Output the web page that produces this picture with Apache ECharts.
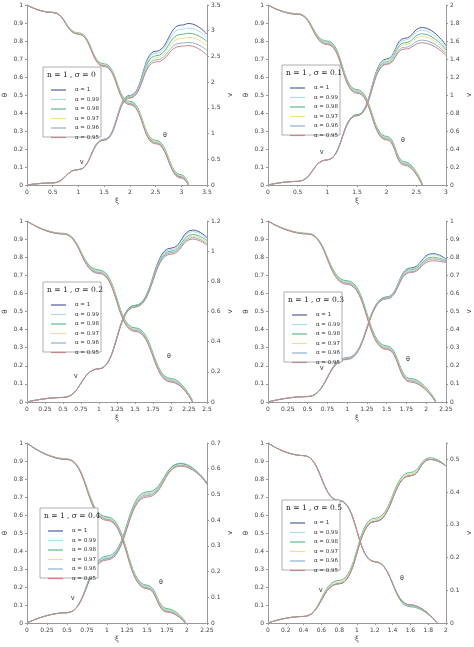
<!DOCTYPE html>
<html><head><meta charset="utf-8">
<script src="https://cdn.jsdelivr.net/npm/echarts@6/dist/echarts.min.js"></script>
<style>html,body{margin:0;padding:0;background:#fff}#c{width:474px;height:647px}</style>
</head><body><div id="c"></div>
<script>
const ALPHAS=['α = 1','α = 0.99','α = 0.98','α = 0.97','α = 0.96','α = 0.95'];
const SIGMAS=['0','0.1','0.2','0.3','0.4','0.5'];

const P1_thetaX=[0,0.5,1,1.5,2,2.5,3,3.14];
const P1_theta=[
 [1,.959,.841,.665,.455,.239,.047,0],
 [1,.959,.843,.669,.460,.244,.052,.004],
 [1,.960,.845,.673,.465,.249,.057,.008],
 [1,.959,.842,.667,.457,.241,.050,.002],
 [1,.958,.839,.662,.450,.233,.042,0],
 [1,.958,.837,.658,.446,.229,.038,0]];
const P1_vX=[0,0.5,1,1.5,2,2.5,3,3.15,3.5];
const P1_v=[
 [0,.04,.30,.89,1.74,2.60,3.11,3.14,2.93],
 [0,.04,.30,.89,1.73,2.56,3.03,3.05,2.87],
 [0,.04,.30,.88,1.72,2.51,2.93,2.95,2.79],
 [0,.04,.30,.88,1.71,2.47,2.85,2.87,2.71],
 [0,.04,.30,.88,1.70,2.43,2.76,2.77,2.62],
 [0,.04,.30,.87,1.69,2.39,2.70,2.71,2.52]];

const P2_thetaX=[0,0.5,1,1.5,2,2.3,2.6];
const P2_theta=[
 [1,.95,.79,.52,.26,.12,0],
 [1,.95,.795,.525,.265,.125,.004],
 [1,.952,.80,.53,.27,.13,.008],
 [1,.95,.79,.52,.26,.12,.002],
 [1,.949,.785,.515,.255,.115,0],
 [1,.948,.78,.51,.25,.11,0]];
const P2_vX=[0,0.5,1,1.5,2,2.3,2.6,3];
const P2_v=[
 [0,.04,.28,.78,1.40,1.63,1.75,1.55],
 [0,.04,.28,.78,1.39,1.61,1.72,1.52],
 [0,.04,.28,.78,1.37,1.58,1.68,1.50],
 [0,.04,.28,.77,1.36,1.56,1.65,1.48],
 [0,.04,.28,.77,1.35,1.53,1.61,1.46],
 [0,.04,.28,.77,1.34,1.51,1.58,1.44]];

const P3_thetaX=[0,0.5,1,1.5,2,2.3];
const P3_theta=[
 [1,.93,.72,.40,.12,0],
 [1,.93,.725,.405,.125,.004],
 [1,.932,.73,.41,.13,.008],
 [1,.93,.72,.40,.12,.002],
 [1,.929,.715,.395,.115,0],
 [1,.928,.71,.39,.11,0]];
const P3_vX=[0,0.5,1,1.5,2,2.3,2.5];
const P3_v=[
 [0,.03,.22,.64,1.02,1.14,1.09],
 [0,.03,.22,.64,1.01,1.13,1.08],
 [0,.03,.22,.64,1.00,1.11,1.07],
 [0,.03,.22,.63,.99,1.10,1.06],
 [0,.03,.22,.63,.99,1.09,1.05],
 [0,.03,.22,.63,.98,1.08,1.04]];

const P4_thetaX=[0,0.5,1,1.5,1.8,2.12];
const P4_theta=[
 [1,.93,.66,.30,.12,0],
 [1,.93,.665,.305,.125,.004],
 [1,.932,.67,.31,.13,.008],
 [1,.93,.66,.30,.12,.002],
 [1,.929,.655,.295,.115,0],
 [1,.928,.65,.29,.11,0]];
const P4_vX=[0,0.5,1,1.5,1.8,2.08,2.25];
const P4_v=[
 [0,.03,.24,.58,.74,.82,.79],
 [0,.03,.24,.58,.735,.815,.785],
 [0,.03,.245,.58,.73,.80,.78],
 [0,.03,.24,.575,.725,.795,.775],
 [0,.03,.24,.575,.72,.79,.775],
 [0,.03,.235,.57,.715,.78,.77]];

const P5_thetaX=[0,0.5,1,1.5,1.75,1.98];
const P5_theta=[
 [1,.91,.58,.20,.07,0],
 [1,.91,.585,.205,.075,.004],
 [1,.912,.59,.21,.08,.008],
 [1,.91,.58,.20,.07,.002],
 [1,.909,.575,.195,.065,0],
 [1,.908,.57,.19,.06,0]];
const P5_vX=[0,0.5,1,1.5,1.92,2.25];
const P5_v=[
 [0,.04,.25,.50,.62,.54],
 [0,.04,.255,.505,.622,.545],
 [0,.04,.26,.51,.62,.545],
 [0,.04,.25,.50,.615,.545],
 [0,.04,.25,.495,.613,.545],
 [0,.04,.245,.49,.61,.545]];

const P6_thetaX=[0,0.4,0.8,1.2,1.6,1.9];
const P6_theta=[
 [1,.93,.68,.34,.10,0],
 [1,.93,.68,.34,.095,0],
 [1,.93,.682,.342,.09,0],
 [1,.93,.68,.34,.10,0],
 [1,.93,.68,.34,.10,0],
 [1,.93,.68,.34,.10,0]];
const P6_vX=[0,0.4,0.8,1.2,1.6,1.82,2];
const P6_v=[
 [0,.02,.12,.31,.45,.50,.48],
 [0,.02,.125,.315,.455,.50,.48],
 [0,.02,.13,.32,.46,.505,.48],
 [0,.02,.125,.315,.455,.50,.48],
 [0,.02,.12,.31,.45,.50,.48],
 [0,.02,.12,.31,.45,.50,.48]];

const COLORS=['#4f5f9f','#a8dce8','#5fb98c','#efe08c','#8db1d6','#c48686'];
const panels=[
 {tx:P1_thetaX,th:P1_theta,vx:P1_vX,v:P1_v,xmax:3.5,xint:.5,vmax:3.5,vint:.5},
 {tx:P2_thetaX,th:P2_theta,vx:P2_vX,v:P2_v,xmax:3,xint:.5,vmax:2,vint:.2},
 {tx:P3_thetaX,th:P3_theta,vx:P3_vX,v:P3_v,xmax:2.5,xint:.25,vmax:1.2,vint:.2},
 {tx:P4_thetaX,th:P4_theta,vx:P4_vX,v:P4_v,xmax:2.25,xint:.25,vmax:1,vint:.1},
 {tx:P5_thetaX,th:P5_theta,vx:P5_vX,v:P5_v,xmax:2.25,xint:.25,vmax:.7,vint:.1},
 {tx:P6_thetaX,th:P6_theta,vx:P6_vX,v:P6_v,xmax:2,xint:.2,vmax:.55,vint:.1}];
const layout=[
 {l:27,t:5,w:180,h:180,box:[43,67],th:[163,132],vl:[80,159]},
 {l:268,t:5,w:178,h:180,box:[282,65],th:[401,137],vl:[320,149]},
 {l:27,t:221,w:180,h:181,box:[43,282],th:[167,353],vl:[74,373]},
 {l:268,t:221,w:178,h:181,box:[284,292],th:[406,356],vl:[320,365]},
 {l:27,t:443,w:180,h:180,box:[40,508],th:[159,579],vl:[71,595]},
 {l:268,t:443,w:178,h:180,box:[282,500],th:[400,575],vl:[319,587]}];

const grid=[],xAxis=[],yAxis=[],series=[],legend=[],graphic=[];
const tick={fontSize:6,color:'#444',margin:4};
const axLine={show:true,lineStyle:{color:'#999',width:1}};
panels.forEach((p,i)=>{
 const L=layout[i];
 grid.push({left:L.l,top:L.t,width:L.w,height:L.h});
 xAxis.push({gridIndex:i,type:'value',min:0,max:p.xmax,interval:p.xint,name:'ξ',nameLocation:'middle',nameGap:13,nameTextStyle:{fontSize:7,color:'#333'},
  axisLine:axLine,axisTick:{show:true,length:2,lineStyle:{color:'#999'}},splitLine:{show:false},axisLabel:tick});
 yAxis.push({gridIndex:i,type:'value',min:0,max:1,interval:.1,name:'θ',nameLocation:'middle',nameGap:18,nameTextStyle:{fontSize:7,color:'#333'},
  axisLine:axLine,axisTick:{show:true,length:2,lineStyle:{color:'#999'}},splitLine:{show:false},axisLabel:tick});
 yAxis.push({gridIndex:i,type:'value',position:'right',min:0,max:p.vmax,interval:p.vint,name:'v',nameLocation:'middle',nameGap:20,nameTextStyle:{fontSize:7,color:'#333'},
  axisLine:axLine,axisTick:{show:true,length:2,lineStyle:{color:'#999'}},splitLine:{show:false},
  axisLabel:Object.assign({},tick,{formatter:v=>(Math.abs(Math.round(v/p.vint)*p.vint-v)<1e-6?String(+v.toFixed(2)):'')})});
 for(let k=0;k<6;k++){
  const base={name:ALPHAS[k],type:'line',xAxisIndex:i,smooth:0.5,smoothMonotone:'x',showSymbol:false,
   lineStyle:{width:1,color:COLORS[k]},itemStyle:{color:COLORS[k]}};
  series.push(Object.assign({},base,{yAxisIndex:2*i,data:p.tx.map((x,j)=>[x,p.th[k][j]])}));
  series.push(Object.assign({},base,{yAxisIndex:2*i+1,data:p.vx.map((x,j)=>[x,p.v[k][j]])}));
 }
 const [bx,by]=L.box;
 graphic.push({type:'rect',shape:{x:bx,y:by,width:58,height:70},style:{fill:'#fff',stroke:'#999',lineWidth:0.8},z:50});
 graphic.push({type:'text',x:bx+4,y:by+4,style:{text:'n = 1 , σ = '+SIGMAS[i],fontSize:7.5,fill:'#222',fontFamily:'DejaVu Serif'},z:51});
 legend.push({data:ALPHAS,orient:'vertical',left:bx+3,top:by+15,itemGap:3.5,itemWidth:15,itemHeight:1.2,
   icon:'rect',textStyle:{fontSize:5.5,color:'#333',padding:[0,0,0,4]},z:52,selectedMode:false});
 graphic.push({type:'text',x:L.th[0],y:L.th[1],style:{text:'θ',fontSize:7,fill:'#333'},z:51});
 graphic.push({type:'text',x:L.vl[0],y:L.vl[1],style:{text:'v',fontSize:7,fill:'#333'},z:51});
});
const chart=echarts.init(document.getElementById('c'),null,{renderer:'canvas'});
chart.setOption({animation:false,textStyle:{fontFamily:'DejaVu Sans'},grid,xAxis,yAxis,series,legend,graphic});
</script></body></html>
